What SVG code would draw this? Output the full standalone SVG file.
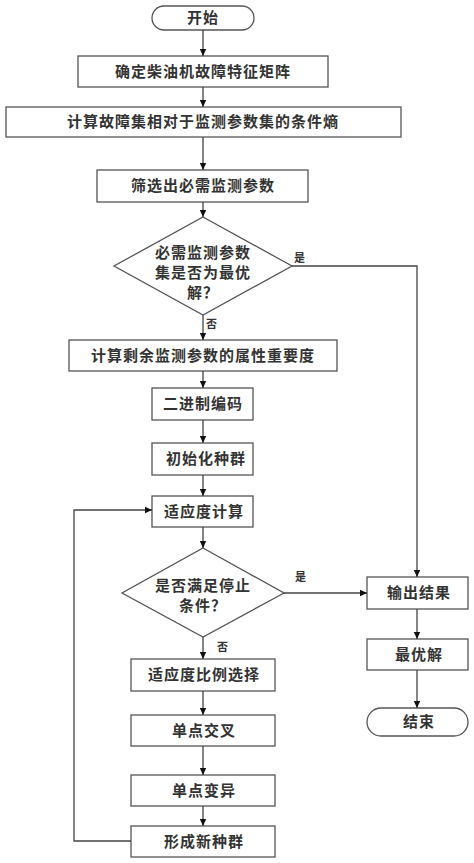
<svg xmlns="http://www.w3.org/2000/svg" width="474" height="863" viewBox="0 0 474 863">
<defs>
<style>
.n{fill:#fff;stroke:#555;stroke-width:1.3}
.t{font-family:"Noto Sans CJK SC","Noto Sans",sans-serif;font-size:15px;font-weight:bold;fill:#333;text-anchor:middle;letter-spacing:1px}
.l{font-family:"Noto Sans CJK SC","Noto Sans",sans-serif;font-size:11px;font-weight:bold;fill:#333}
.c{fill:none;stroke:#444;stroke-width:1.3;marker-end:url(#a)}
</style>
<marker id="a" markerUnits="userSpaceOnUse" markerWidth="8" markerHeight="8" refX="7" refY="4" orient="auto"><path d="M0,0.8 L7,4 L0,7.2 Z" fill="#111"/></marker>
</defs>
<rect width="474" height="863" fill="#fff"/>
<g id="start"><rect class="n" x="152" y="6" width="102" height="24" rx="12"/><text class="t" x="203" y="23">开始</text></g>
<g id="b1"><rect class="n" x="78" y="56" width="250" height="31"/><text class="t" x="203" y="77">确定柴油机故障特征矩阵</text></g>
<g id="b2"><rect class="n" x="6" y="107" width="395" height="30"/><text class="t" x="203" y="127">计算故障集相对于监测参数集的条件熵</text></g>
<g id="b3"><rect class="n" x="97" y="170" width="211" height="32"/><text class="t" x="203" y="191">筛选出必需监测参数</text></g>
<g id="d1"><polygon class="n" points="203,217 292,266 203,315 114,266"/><text class="t" x="203" y="258">必需监测参数</text><text class="t" x="203" y="278">集是否为最优</text><text class="t" x="203" y="298">解？</text></g>
<g id="b4"><rect class="n" x="69" y="340" width="268" height="31"/><text class="t" x="203" y="361">计算剩余监测参数的属性重要度</text></g>
<g id="b5"><rect class="n" x="152" y="388" width="101" height="32"/><text class="t" x="203" y="409">二进制编码</text></g>
<g id="b6"><rect class="n" x="152" y="443" width="101" height="32"/><text class="t" x="206" y="464">初始化种群</text></g>
<g id="b7"><rect class="n" x="152" y="496" width="101" height="31"/><text class="t" x="204" y="517">适应度计算</text></g>
<g id="d2"><polygon class="n" points="203,548 284,593 203,637 122,593"/><text class="t" x="203" y="591">是否满足停止</text><text class="t" x="203" y="611">条件？</text></g>
<g id="b8"><rect class="n" x="131" y="659" width="144" height="32"/><text class="t" x="204" y="680">适应度比例选择</text></g>
<g id="b9"><rect class="n" x="131" y="715" width="144" height="31"/><text class="t" x="204" y="736">单点交叉</text></g>
<g id="b10"><rect class="n" x="131" y="775" width="144" height="31"/><text class="t" x="204" y="796">单点变异</text></g>
<g id="b11"><rect class="n" x="131" y="826" width="144" height="31"/><text class="t" x="204" y="847">形成新种群</text></g>
<g id="out"><rect class="n" x="367" y="577" width="101" height="32"/><text class="t" x="419" y="598">输出结果</text></g>
<g id="best"><rect class="n" x="367" y="639" width="101" height="31"/><text class="t" x="419" y="660">最优解</text></g>
<g id="end"><rect class="n" x="367" y="708" width="101" height="28" rx="14"/><text class="t" x="419" y="727">结束</text></g>
<g id="connectors">
<path class="c" d="M203,30 V56"/>
<path class="c" d="M203,87 V107"/>
<path class="c" d="M203,137 V170"/>
<path class="c" d="M203,202 V217"/>
<path class="c" d="M292,266 H417 V577"/>
<path class="c" d="M203,315 V340"/>
<path class="c" d="M203,371 V388"/>
<path class="c" d="M203,420 V443"/>
<path class="c" d="M203,475 V496"/>
<path class="c" d="M203,527 V548"/>
<path class="c" d="M284,593 H367"/>
<path class="c" d="M203,637 V659"/>
<path class="c" d="M203,691 V715"/>
<path class="c" d="M203,746 V775"/>
<path class="c" d="M203,806 V826"/>
<path class="c" d="M131,841 H74 V510 H152"/>
<path class="c" d="M417,609 V639"/>
<path class="c" d="M417,670 V708"/>
<text class="l" x="294" y="262">是</text>
<text class="l" x="206" y="328">否</text>
<text class="l" x="295" y="581">是</text>
<text class="l" x="217" y="651">否</text>
</g>
</svg>
